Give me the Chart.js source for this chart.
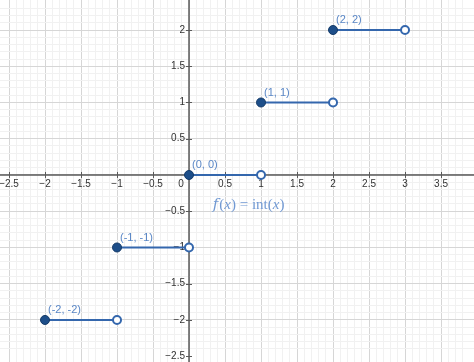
<!DOCTYPE html>
<html>
<head>
<meta charset="utf-8">
<script src="https://cdn.jsdelivr.net/npm/chart.js@4"></script>
<style>
  html, body { margin: 0; padding: 0; background: #fff; }
  #wrap { width: 474px; height: 362px; position: relative; }
</style>
</head>
<body>
<div id="wrap"><canvas id="chart-int"></canvas></div>
<script>
// ---------------- data ----------------
const segStartX = [-2, -1, 0, 1, 2];
const segEndX = [-1, 0, 1, 2, 3];
const segY = [-2, -1, 0, 1, 2];
const pointLabels = ['(-2, -2)', '(-1, -1)', '(0, 0)', '(1, 1)', '(2, 2)'];

const xTickValues = [-2.5, -2, -1.5, -1, -0.5, 0, 0.5, 1, 1.5, 2, 2.5, 3, 3.5];
const xTickLabels = ['−2.5', '−2', '−1.5', '−1', '−0.5', '0', '0.5', '1', '1.5', '2', '2.5', '3', '3.5'];
const yTickValues = [2, 1.5, 1, 0.5, -0.5, -1, -1.5, -2, -2.5];
const yTickLabels = ['2', '1.5', '1', '0.5', '−0.5', '−1', '−1.5', '−2', '−2.5'];

const xRange = [-2.625, 3.958];
const yRange = [-2.58, 2.414];

const funcLabelPos = [0.33, -0.47];

// ---------------- colours ----------------
const lineColor = '#3467ad';
const dotColor = '#1d4e89';
const labelColor = '#5a87c6';

var datasets = [];
for (let i = 0; i < segY.length; i++) {
    datasets.push({
        label: pointLabels[i],
        data: [{x: segStartX[i], y: segY[i]}, {x: segEndX[i], y: segY[i]}],
        borderColor: lineColor,
        borderWidth: 2,
        pointRadius: [4.5, 4],
        pointBorderWidth: [1, 2],
        pointBackgroundColor: [dotColor, '#ffffff'],
        pointBorderColor: ['#143a68', lineColor],
        showLine: true,
        fill: false
    });
}

function isMajor(v) {
    return Math.abs(v * 2 - Math.round(v * 2)) < 1e-6;
}

function gridColor(ctx) {
    const v = ctx.tick ? ctx.tick.value : 0;
    const s = ctx.scale;
    if (Math.abs(v - s.min) < 1e-6 || Math.abs(v - s.max) < 1e-6) return 'rgba(0,0,0,0)';
    return isMajor(v) ? '#d6d6d6' : '#f1f1f1';
}

// axes, tick labels and point labels
const graphPlugin = {
    id: 'graphPlugin',
    beforeDatasetsDraw(chart) {
        const ctx = chart.ctx;
        const xs = chart.scales.x, ys = chart.scales.y;
        const ox = xs.getPixelForValue(0), oy = ys.getPixelForValue(0);
        ctx.save();
        ctx.strokeStyle = '#5a5a5a';
        ctx.lineWidth = 1.5;
        ctx.beginPath();
        ctx.moveTo(0, oy); ctx.lineTo(chart.width, oy);
        ctx.moveTo(ox, 0); ctx.lineTo(ox, chart.height);
        ctx.stroke();

        ctx.lineWidth = 1;
        ctx.beginPath();
        xTickValues.forEach(v => {
            const px = Math.round(xs.getPixelForValue(v)) + 0.5;
            ctx.moveTo(px, oy - 3); ctx.lineTo(px, oy + 3);
        });
        yTickValues.forEach(v => {
            const py = Math.round(ys.getPixelForValue(v)) + 0.5;
            ctx.moveTo(ox - 3, py); ctx.lineTo(ox + 3, py);
        });
        ctx.stroke();

        ctx.fillStyle = '#333';
        ctx.font = '10px "Liberation Sans", Arial, sans-serif';
        ctx.textAlign = 'center';
        ctx.textBaseline = 'middle';
        xTickValues.forEach((v, i) => {
            let px = xs.getPixelForValue(v);
            if (v === 0) px -= 8;
            ctx.fillText(xTickLabels[i], px, oy + 9);
        });
        ctx.textAlign = 'right';
        yTickValues.forEach((v, i) => {
            ctx.fillText(yTickLabels[i], ox - 4, ys.getPixelForValue(v));
        });
        ctx.restore();
    },
    afterDatasetsDraw(chart) {
        const ctx = chart.ctx;
        const xs = chart.scales.x, ys = chart.scales.y;
        ctx.save();
        ctx.fillStyle = labelColor;
        ctx.font = '11px "Liberation Sans", Arial, sans-serif';
        ctx.textAlign = 'left';
        ctx.textBaseline = 'middle';
        for (let i = 0; i < segY.length; i++) {
            ctx.fillText(pointLabels[i], xs.getPixelForValue(segStartX[i]) + 3, ys.getPixelForValue(segY[i]) - 10);
        }

        // f(x) = int(x)
        let px = xs.getPixelForValue(funcLabelPos[0]);
        const py = ys.getPixelForValue(funcLabelPos[1]);
        ctx.fillStyle = '#7199d3';
        ctx.textBaseline = 'alphabetic';
        const parts = [
            ['f', 'italic 15px "DejaVu Serif", "Liberation Serif", serif'],
            ['(', '15px "Liberation Serif", serif'],
            ['x', 'italic 15px "Liberation Serif", serif'],
            [') = int(', '15px "Liberation Serif", serif'],
            ['x', 'italic 15px "Liberation Serif", serif'],
            [')', '15px "Liberation Serif", serif']
        ];
        parts.forEach(p => {
            ctx.font = p[1];
            ctx.fillText(p[0], px, py);
            px += ctx.measureText(p[0]).width + (p[0] === 'f' ? 1 : 0);
        });
        ctx.restore();
    }
};

var chart_int = new Chart(document.getElementById('chart-int').getContext('2d'), {
    type: 'scatter',
    data: { datasets: datasets },
    options: {
        responsive: true,
        maintainAspectRatio: false,
        animation: false,
        layout: { padding: 0, autoPadding: false },
        plugins: {
            legend: { display: false },
            tooltip: { enabled: false }
        },
        scales: {
            x: {
                type: 'linear',
                min: xRange[0],
                max: xRange[1],
                border: { display: false },
                grid: { color: gridColor, lineWidth: 1, drawTicks: false },
                ticks: { display: false, stepSize: 0.1, padding: 0 },
                afterFit(scale) { scale.height = 0; }
            },
            y: {
                type: 'linear',
                min: yRange[0],
                max: yRange[1],
                border: { display: false },
                grid: { color: gridColor, lineWidth: 1, drawTicks: false },
                ticks: { display: false, stepSize: 0.1, padding: 0 },
                afterFit(scale) { scale.width = 0; }
            }
        }
    },
    plugins: [graphPlugin]
});
</script>
</body>
</html>
